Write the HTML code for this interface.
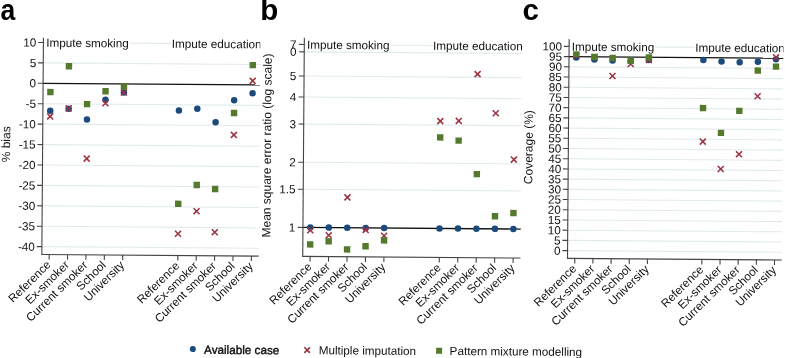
<!DOCTYPE html>
<html><head><meta charset="utf-8"><style>
html,body{margin:0;padding:0;background:#fff;}
svg{display:block;filter:blur(0.3px);}
.t{font-family:"Liberation Sans", Arial, Helvetica, sans-serif;font-size:11.7px;fill:#111;}
.pl{font-family:"Liberation Sans", Arial, Helvetica, sans-serif;font-size:29.5px;font-weight:bold;fill:#000;}
</style></head><body>
<svg width="785" height="358" viewBox="0 0 785 358">
<rect width="785" height="358" fill="#fff"/>
<g transform="rotate(0.4297 392.5 179.0)">
<line x1="42.40" y1="45.10" x2="259.30" y2="45.10" stroke="#e1ebee" stroke-width="1.1"/>
<line x1="42.40" y1="65.52" x2="259.30" y2="65.52" stroke="#e1ebee" stroke-width="1.1"/>
<line x1="42.40" y1="106.36" x2="259.30" y2="106.36" stroke="#e1ebee" stroke-width="1.1"/>
<line x1="42.40" y1="126.78" x2="259.30" y2="126.78" stroke="#e1ebee" stroke-width="1.1"/>
<line x1="42.40" y1="147.20" x2="259.30" y2="147.20" stroke="#e1ebee" stroke-width="1.1"/>
<line x1="42.40" y1="167.62" x2="259.30" y2="167.62" stroke="#e1ebee" stroke-width="1.1"/>
<line x1="42.40" y1="188.04" x2="259.30" y2="188.04" stroke="#e1ebee" stroke-width="1.1"/>
<line x1="42.40" y1="208.46" x2="259.30" y2="208.46" stroke="#e1ebee" stroke-width="1.1"/>
<line x1="42.40" y1="228.88" x2="259.30" y2="228.88" stroke="#e1ebee" stroke-width="1.1"/>
<line x1="42.40" y1="249.30" x2="259.30" y2="249.30" stroke="#e1ebee" stroke-width="1.1"/>
<line x1="42.40" y1="85.94" x2="259.30" y2="85.94" stroke="#111" stroke-width="1.3"/>
<circle cx="49.75" cy="113.37" r="3.25" fill="#1b4b7c"/>
<circle cx="68.13" cy="111.23" r="3.25" fill="#1b4b7c"/>
<circle cx="86.52" cy="121.89" r="3.25" fill="#1b4b7c"/>
<circle cx="104.90" cy="101.86" r="3.25" fill="#1b4b7c"/>
<circle cx="123.28" cy="94.52" r="3.25" fill="#1b4b7c"/>
<circle cx="178.42" cy="112.11" r="3.25" fill="#1b4b7c"/>
<circle cx="196.80" cy="110.26" r="3.25" fill="#1b4b7c"/>
<circle cx="215.18" cy="123.63" r="3.25" fill="#1b4b7c"/>
<circle cx="233.57" cy="101.39" r="3.25" fill="#1b4b7c"/>
<circle cx="251.95" cy="94.25" r="3.25" fill="#1b4b7c"/>
<path d="M46.75 115.97L52.75 121.97M46.75 121.97L52.75 115.97" stroke="#9a3342" stroke-width="1.55" fill="none"/>
<path d="M65.13 107.83L71.13 113.83M65.13 113.83L71.13 107.83" stroke="#9a3342" stroke-width="1.55" fill="none"/>
<path d="M83.52 157.89L89.52 163.89M83.52 163.89L89.52 157.89" stroke="#9a3342" stroke-width="1.55" fill="none"/>
<path d="M101.90 102.36L107.90 108.36M101.90 108.36L107.90 102.36" stroke="#9a3342" stroke-width="1.55" fill="none"/>
<path d="M120.28 91.52L126.28 97.52M120.28 97.52L126.28 91.52" stroke="#9a3342" stroke-width="1.55" fill="none"/>
<path d="M175.42 232.41L181.42 238.41M175.42 238.41L181.42 232.41" stroke="#9a3342" stroke-width="1.55" fill="none"/>
<path d="M193.80 209.66L199.80 215.66M193.80 215.66L199.80 209.66" stroke="#9a3342" stroke-width="1.55" fill="none"/>
<path d="M212.18 230.53L218.18 236.53M212.18 236.53L218.18 230.53" stroke="#9a3342" stroke-width="1.55" fill="none"/>
<path d="M230.57 133.09L236.57 139.09M230.57 139.09L236.57 133.09" stroke="#9a3342" stroke-width="1.55" fill="none"/>
<path d="M248.95 78.95L254.95 84.95M248.95 84.95L254.95 78.95" stroke="#9a3342" stroke-width="1.55" fill="none"/>
<rect x="46.55" y="91.42" width="6.4" height="6.4" fill="#557a2e"/>
<rect x="64.93" y="65.53" width="6.4" height="6.4" fill="#557a2e"/>
<rect x="83.32" y="103.24" width="6.4" height="6.4" fill="#557a2e"/>
<rect x="101.70" y="90.16" width="6.4" height="6.4" fill="#557a2e"/>
<rect x="120.08" y="85.32" width="6.4" height="6.4" fill="#557a2e"/>
<rect x="175.22" y="202.21" width="6.4" height="6.4" fill="#557a2e"/>
<rect x="193.60" y="183.26" width="6.4" height="6.4" fill="#557a2e"/>
<rect x="211.98" y="187.13" width="6.4" height="6.4" fill="#557a2e"/>
<rect x="230.37" y="110.99" width="6.4" height="6.4" fill="#557a2e"/>
<rect x="248.75" y="62.95" width="6.4" height="6.4" fill="#557a2e"/>
<clipPath id="clipa"><rect x="42.4" y="0" width="216.90" height="400"/></clipPath>
<g clip-path="url(#clipa)">
<rect x="45.10" y="39.40" width="83" height="10.6" fill="#fff"/>
<rect x="170.80" y="39.40" width="91" height="10.6" fill="#fff"/>
<text x="45.20" y="49.4" class="t">Impute smoking</text>
<text x="170.90" y="49.4" class="t">Impute education</text>
</g>
<line x1="42.40" y1="40.4" x2="42.40" y2="257.1" stroke="#444" stroke-width="1.1"/>
<line x1="41.85" y1="257.1" x2="259.30" y2="257.1" stroke="#444" stroke-width="1.1"/>
<line x1="37.20" y1="45.10" x2="42.40" y2="45.10" stroke="#444" stroke-width="1.1"/>
<text x="35.40" y="49.25" class="t" text-anchor="end">10</text>
<line x1="37.20" y1="65.52" x2="42.40" y2="65.52" stroke="#444" stroke-width="1.1"/>
<text x="35.40" y="69.67" class="t" text-anchor="end">5</text>
<line x1="37.20" y1="85.94" x2="42.40" y2="85.94" stroke="#444" stroke-width="1.1"/>
<text x="35.40" y="90.09" class="t" text-anchor="end">0</text>
<line x1="37.20" y1="106.36" x2="42.40" y2="106.36" stroke="#444" stroke-width="1.1"/>
<text x="35.40" y="110.51" class="t" text-anchor="end">-5</text>
<line x1="37.20" y1="126.78" x2="42.40" y2="126.78" stroke="#444" stroke-width="1.1"/>
<text x="35.40" y="130.93" class="t" text-anchor="end">-10</text>
<line x1="37.20" y1="147.20" x2="42.40" y2="147.20" stroke="#444" stroke-width="1.1"/>
<text x="35.40" y="151.35" class="t" text-anchor="end">-15</text>
<line x1="37.20" y1="167.62" x2="42.40" y2="167.62" stroke="#444" stroke-width="1.1"/>
<text x="35.40" y="171.77" class="t" text-anchor="end">-20</text>
<line x1="37.20" y1="188.04" x2="42.40" y2="188.04" stroke="#444" stroke-width="1.1"/>
<text x="35.40" y="192.19" class="t" text-anchor="end">-25</text>
<line x1="37.20" y1="208.46" x2="42.40" y2="208.46" stroke="#444" stroke-width="1.1"/>
<text x="35.40" y="212.61" class="t" text-anchor="end">-30</text>
<line x1="37.20" y1="228.88" x2="42.40" y2="228.88" stroke="#444" stroke-width="1.1"/>
<text x="35.40" y="233.03" class="t" text-anchor="end">-35</text>
<line x1="37.20" y1="249.30" x2="42.40" y2="249.30" stroke="#444" stroke-width="1.1"/>
<text x="35.40" y="253.45" class="t" text-anchor="end">-40</text>
<line x1="49.75" y1="257.1" x2="49.75" y2="262.10" stroke="#444" stroke-width="1.1"/>
<text x="52.10" y="268.00" class="t" text-anchor="end" transform="rotate(-45 52.10 268.00)">Reference</text>
<line x1="68.13" y1="257.1" x2="68.13" y2="262.10" stroke="#444" stroke-width="1.1"/>
<text x="70.48" y="268.00" class="t" text-anchor="end" transform="rotate(-45 70.48 268.00)">Ex-smoker</text>
<line x1="86.52" y1="257.1" x2="86.52" y2="262.10" stroke="#444" stroke-width="1.1"/>
<text x="88.87" y="268.00" class="t" text-anchor="end" transform="rotate(-45 88.87 268.00)">Current smoker</text>
<line x1="104.90" y1="257.1" x2="104.90" y2="262.10" stroke="#444" stroke-width="1.1"/>
<text x="107.25" y="268.00" class="t" text-anchor="end" transform="rotate(-45 107.25 268.00)">School</text>
<line x1="123.28" y1="257.1" x2="123.28" y2="262.10" stroke="#444" stroke-width="1.1"/>
<text x="125.63" y="268.00" class="t" text-anchor="end" transform="rotate(-45 125.63 268.00)">University</text>
<line x1="178.42" y1="257.1" x2="178.42" y2="262.10" stroke="#444" stroke-width="1.1"/>
<text x="180.77" y="268.00" class="t" text-anchor="end" transform="rotate(-45 180.77 268.00)">Reference</text>
<line x1="196.80" y1="257.1" x2="196.80" y2="262.10" stroke="#444" stroke-width="1.1"/>
<text x="199.15" y="268.00" class="t" text-anchor="end" transform="rotate(-45 199.15 268.00)">Ex-smoker</text>
<line x1="215.18" y1="257.1" x2="215.18" y2="262.10" stroke="#444" stroke-width="1.1"/>
<text x="217.53" y="268.00" class="t" text-anchor="end" transform="rotate(-45 217.53 268.00)">Current smoker</text>
<line x1="233.57" y1="257.1" x2="233.57" y2="262.10" stroke="#444" stroke-width="1.1"/>
<text x="235.92" y="268.00" class="t" text-anchor="end" transform="rotate(-45 235.92 268.00)">School</text>
<line x1="251.95" y1="257.1" x2="251.95" y2="262.10" stroke="#444" stroke-width="1.1"/>
<text x="254.30" y="268.00" class="t" text-anchor="end" transform="rotate(-45 254.30 268.00)">University</text>
<text x="9.85" y="147.20" class="t" style="font-size:12px" text-anchor="middle" transform="rotate(-90 9.85 147.20)" dy="0">% bias</text>
<line x1="303.30" y1="45.10" x2="521.10" y2="45.10" stroke="#e1ebee" stroke-width="1.1"/>
<line x1="303.30" y1="52.50" x2="521.10" y2="52.50" stroke="#e1ebee" stroke-width="1.1"/>
<line x1="303.30" y1="76.74" x2="521.10" y2="76.74" stroke="#e1ebee" stroke-width="1.1"/>
<line x1="303.30" y1="97.73" x2="521.10" y2="97.73" stroke="#e1ebee" stroke-width="1.1"/>
<line x1="303.30" y1="124.78" x2="521.10" y2="124.78" stroke="#e1ebee" stroke-width="1.1"/>
<line x1="303.30" y1="162.91" x2="521.10" y2="162.91" stroke="#e1ebee" stroke-width="1.1"/>
<line x1="303.30" y1="189.97" x2="521.10" y2="189.97" stroke="#e1ebee" stroke-width="1.1"/>
<line x1="303.30" y1="228.10" x2="521.10" y2="228.10" stroke="#111" stroke-width="1.3"/>
<circle cx="310.68" cy="228.10" r="3.25" fill="#1b4b7c"/>
<circle cx="329.14" cy="228.10" r="3.25" fill="#1b4b7c"/>
<circle cx="347.60" cy="228.10" r="3.25" fill="#1b4b7c"/>
<circle cx="366.06" cy="228.10" r="3.25" fill="#1b4b7c"/>
<circle cx="384.51" cy="228.10" r="3.25" fill="#1b4b7c"/>
<circle cx="439.89" cy="228.10" r="3.25" fill="#1b4b7c"/>
<circle cx="458.34" cy="228.10" r="3.25" fill="#1b4b7c"/>
<circle cx="476.80" cy="228.10" r="3.25" fill="#1b4b7c"/>
<circle cx="495.26" cy="228.10" r="3.25" fill="#1b4b7c"/>
<circle cx="513.72" cy="228.10" r="3.25" fill="#1b4b7c"/>
<path d="M307.68 227.92L313.68 233.92M307.68 233.92L313.68 227.92" stroke="#9a3342" stroke-width="1.55" fill="none"/>
<path d="M326.14 232.78L332.14 238.78M326.14 238.78L332.14 232.78" stroke="#9a3342" stroke-width="1.55" fill="none"/>
<path d="M344.60 194.74L350.60 200.74M344.60 200.74L350.60 194.74" stroke="#9a3342" stroke-width="1.55" fill="none"/>
<path d="M363.06 227.10L369.06 233.10M363.06 233.10L369.06 227.10" stroke="#9a3342" stroke-width="1.55" fill="none"/>
<path d="M381.51 232.77L387.51 238.77M381.51 238.77L387.51 232.77" stroke="#9a3342" stroke-width="1.55" fill="none"/>
<path d="M436.89 117.75L442.89 123.75M436.89 123.75L442.89 117.75" stroke="#9a3342" stroke-width="1.55" fill="none"/>
<path d="M455.34 117.41L461.34 123.41M455.34 123.41L461.34 117.41" stroke="#9a3342" stroke-width="1.55" fill="none"/>
<path d="M473.80 70.47L479.80 76.47M473.80 76.47L479.80 70.47" stroke="#9a3342" stroke-width="1.55" fill="none"/>
<path d="M492.26 109.43L498.26 115.43M492.26 115.43L498.26 109.43" stroke="#9a3342" stroke-width="1.55" fill="none"/>
<path d="M510.72 155.69L516.72 161.69M510.72 161.69L516.72 155.69" stroke="#9a3342" stroke-width="1.55" fill="none"/>
<rect x="307.48" y="241.82" width="6.4" height="6.4" fill="#557a2e"/>
<rect x="325.94" y="238.58" width="6.4" height="6.4" fill="#557a2e"/>
<rect x="344.40" y="246.54" width="6.4" height="6.4" fill="#557a2e"/>
<rect x="362.86" y="243.20" width="6.4" height="6.4" fill="#557a2e"/>
<rect x="381.31" y="237.27" width="6.4" height="6.4" fill="#557a2e"/>
<rect x="436.69" y="133.85" width="6.4" height="6.4" fill="#557a2e"/>
<rect x="455.14" y="136.91" width="6.4" height="6.4" fill="#557a2e"/>
<rect x="473.60" y="170.27" width="6.4" height="6.4" fill="#557a2e"/>
<rect x="492.06" y="212.23" width="6.4" height="6.4" fill="#557a2e"/>
<rect x="510.52" y="208.99" width="6.4" height="6.4" fill="#557a2e"/>
<clipPath id="clipb"><rect x="303.3" y="0" width="217.80" height="400"/></clipPath>
<g clip-path="url(#clipb)">
<rect x="305.90" y="39.40" width="83" height="10.6" fill="#fff"/>
<rect x="431.90" y="39.40" width="91" height="10.6" fill="#fff"/>
<text x="306.00" y="49.4" class="t">Impute smoking</text>
<text x="432.00" y="49.4" class="t">Impute education</text>
</g>
<line x1="303.30" y1="38.5" x2="303.30" y2="257.1" stroke="#444" stroke-width="1.1"/>
<line x1="302.75" y1="257.1" x2="521.10" y2="257.1" stroke="#444" stroke-width="1.1"/>
<line x1="298.10" y1="45.10" x2="303.30" y2="45.10" stroke="#444" stroke-width="1.1"/>
<text x="295.60" y="49.25" class="t" text-anchor="end">7</text>
<line x1="298.10" y1="52.50" x2="303.30" y2="52.50" stroke="#444" stroke-width="1.1"/>
<text x="295.60" y="56.65" class="t" text-anchor="end">0</text>
<line x1="298.10" y1="76.74" x2="303.30" y2="76.74" stroke="#444" stroke-width="1.1"/>
<text x="295.60" y="80.89" class="t" text-anchor="end">5</text>
<line x1="298.10" y1="97.73" x2="303.30" y2="97.73" stroke="#444" stroke-width="1.1"/>
<text x="295.60" y="101.88" class="t" text-anchor="end">4</text>
<line x1="298.10" y1="124.78" x2="303.30" y2="124.78" stroke="#444" stroke-width="1.1"/>
<text x="295.60" y="128.93" class="t" text-anchor="end">3</text>
<line x1="298.10" y1="162.91" x2="303.30" y2="162.91" stroke="#444" stroke-width="1.1"/>
<text x="295.60" y="167.06" class="t" text-anchor="end">2</text>
<line x1="298.10" y1="189.97" x2="303.30" y2="189.97" stroke="#444" stroke-width="1.1"/>
<text x="295.60" y="194.12" class="t" text-anchor="end">1.5</text>
<line x1="298.10" y1="228.10" x2="303.30" y2="228.10" stroke="#444" stroke-width="1.1"/>
<text x="295.60" y="232.25" class="t" text-anchor="end">1</text>
<line x1="310.68" y1="257.1" x2="310.68" y2="262.10" stroke="#444" stroke-width="1.1"/>
<text x="313.03" y="268.00" class="t" text-anchor="end" transform="rotate(-45 313.03 268.00)">Reference</text>
<line x1="329.14" y1="257.1" x2="329.14" y2="262.10" stroke="#444" stroke-width="1.1"/>
<text x="331.49" y="268.00" class="t" text-anchor="end" transform="rotate(-45 331.49 268.00)">Ex-smoker</text>
<line x1="347.60" y1="257.1" x2="347.60" y2="262.10" stroke="#444" stroke-width="1.1"/>
<text x="349.95" y="268.00" class="t" text-anchor="end" transform="rotate(-45 349.95 268.00)">Current smoker</text>
<line x1="366.06" y1="257.1" x2="366.06" y2="262.10" stroke="#444" stroke-width="1.1"/>
<text x="368.41" y="268.00" class="t" text-anchor="end" transform="rotate(-45 368.41 268.00)">School</text>
<line x1="384.51" y1="257.1" x2="384.51" y2="262.10" stroke="#444" stroke-width="1.1"/>
<text x="386.86" y="268.00" class="t" text-anchor="end" transform="rotate(-45 386.86 268.00)">University</text>
<line x1="439.89" y1="257.1" x2="439.89" y2="262.10" stroke="#444" stroke-width="1.1"/>
<text x="442.24" y="268.00" class="t" text-anchor="end" transform="rotate(-45 442.24 268.00)">Reference</text>
<line x1="458.34" y1="257.1" x2="458.34" y2="262.10" stroke="#444" stroke-width="1.1"/>
<text x="460.69" y="268.00" class="t" text-anchor="end" transform="rotate(-45 460.69 268.00)">Ex-smoker</text>
<line x1="476.80" y1="257.1" x2="476.80" y2="262.10" stroke="#444" stroke-width="1.1"/>
<text x="479.15" y="268.00" class="t" text-anchor="end" transform="rotate(-45 479.15 268.00)">Current smoker</text>
<line x1="495.26" y1="257.1" x2="495.26" y2="262.10" stroke="#444" stroke-width="1.1"/>
<text x="497.61" y="268.00" class="t" text-anchor="end" transform="rotate(-45 497.61 268.00)">School</text>
<line x1="513.72" y1="257.1" x2="513.72" y2="262.10" stroke="#444" stroke-width="1.1"/>
<text x="516.07" y="268.00" class="t" text-anchor="end" transform="rotate(-45 516.07 268.00)">University</text>
<text x="270.80" y="146.40" class="t" style="font-size:12px" text-anchor="middle" transform="rotate(-90 270.80 146.40)" dy="0">Mean square error ratio (log scale)</text>
<line x1="568.10" y1="45.10" x2="782.40" y2="45.10" stroke="#e1ebee" stroke-width="1.1"/>
<line x1="568.10" y1="65.52" x2="782.40" y2="65.52" stroke="#e1ebee" stroke-width="1.1"/>
<line x1="568.10" y1="75.73" x2="782.40" y2="75.73" stroke="#e1ebee" stroke-width="1.1"/>
<line x1="568.10" y1="85.94" x2="782.40" y2="85.94" stroke="#e1ebee" stroke-width="1.1"/>
<line x1="568.10" y1="96.15" x2="782.40" y2="96.15" stroke="#e1ebee" stroke-width="1.1"/>
<line x1="568.10" y1="106.36" x2="782.40" y2="106.36" stroke="#e1ebee" stroke-width="1.1"/>
<line x1="568.10" y1="116.57" x2="782.40" y2="116.57" stroke="#e1ebee" stroke-width="1.1"/>
<line x1="568.10" y1="126.78" x2="782.40" y2="126.78" stroke="#e1ebee" stroke-width="1.1"/>
<line x1="568.10" y1="136.99" x2="782.40" y2="136.99" stroke="#e1ebee" stroke-width="1.1"/>
<line x1="568.10" y1="147.20" x2="782.40" y2="147.20" stroke="#e1ebee" stroke-width="1.1"/>
<line x1="568.10" y1="157.41" x2="782.40" y2="157.41" stroke="#e1ebee" stroke-width="1.1"/>
<line x1="568.10" y1="167.62" x2="782.40" y2="167.62" stroke="#e1ebee" stroke-width="1.1"/>
<line x1="568.10" y1="177.83" x2="782.40" y2="177.83" stroke="#e1ebee" stroke-width="1.1"/>
<line x1="568.10" y1="188.04" x2="782.40" y2="188.04" stroke="#e1ebee" stroke-width="1.1"/>
<line x1="568.10" y1="198.25" x2="782.40" y2="198.25" stroke="#e1ebee" stroke-width="1.1"/>
<line x1="568.10" y1="208.46" x2="782.40" y2="208.46" stroke="#e1ebee" stroke-width="1.1"/>
<line x1="568.10" y1="218.67" x2="782.40" y2="218.67" stroke="#e1ebee" stroke-width="1.1"/>
<line x1="568.10" y1="228.88" x2="782.40" y2="228.88" stroke="#e1ebee" stroke-width="1.1"/>
<line x1="568.10" y1="239.09" x2="782.40" y2="239.09" stroke="#e1ebee" stroke-width="1.1"/>
<line x1="568.10" y1="249.30" x2="782.40" y2="249.30" stroke="#e1ebee" stroke-width="1.1"/>
<line x1="568.10" y1="55.31" x2="782.40" y2="55.31" stroke="#111" stroke-width="1.3"/>
<circle cx="575.36" cy="56.22" r="3.25" fill="#1b4b7c"/>
<circle cx="593.53" cy="58.08" r="3.25" fill="#1b4b7c"/>
<circle cx="611.69" cy="58.85" r="3.25" fill="#1b4b7c"/>
<circle cx="629.85" cy="59.21" r="3.25" fill="#1b4b7c"/>
<circle cx="648.01" cy="58.08" r="3.25" fill="#1b4b7c"/>
<circle cx="702.49" cy="57.77" r="3.25" fill="#1b4b7c"/>
<circle cx="720.65" cy="59.03" r="3.25" fill="#1b4b7c"/>
<circle cx="738.81" cy="59.70" r="3.25" fill="#1b4b7c"/>
<circle cx="756.97" cy="59.06" r="3.25" fill="#1b4b7c"/>
<circle cx="775.14" cy="56.43" r="3.25" fill="#1b4b7c"/>
<path d="M572.36 51.42L578.36 57.42M572.36 57.42L578.36 51.42" stroke="#9a3342" stroke-width="1.55" fill="none"/>
<path d="M590.53 52.78L596.53 58.78M590.53 58.78L596.53 52.78" stroke="#9a3342" stroke-width="1.55" fill="none"/>
<path d="M608.69 71.35L614.69 77.35M608.69 77.35L614.69 71.35" stroke="#9a3342" stroke-width="1.55" fill="none"/>
<path d="M626.85 59.21L632.85 65.21M626.85 65.21L632.85 59.21" stroke="#9a3342" stroke-width="1.55" fill="none"/>
<path d="M645.01 55.08L651.01 61.08M645.01 61.08L651.01 55.08" stroke="#9a3342" stroke-width="1.55" fill="none"/>
<path d="M699.49 136.27L705.49 142.27M699.49 142.27L705.49 136.27" stroke="#9a3342" stroke-width="1.55" fill="none"/>
<path d="M717.65 163.53L723.65 169.53M717.65 169.53L723.65 163.53" stroke="#9a3342" stroke-width="1.55" fill="none"/>
<path d="M735.81 148.60L741.81 154.60M735.81 154.60L741.81 148.60" stroke="#9a3342" stroke-width="1.55" fill="none"/>
<path d="M753.97 90.56L759.97 96.56M753.97 96.56L759.97 90.56" stroke="#9a3342" stroke-width="1.55" fill="none"/>
<path d="M772.14 51.43L778.14 57.43M772.14 57.43L778.14 51.43" stroke="#9a3342" stroke-width="1.55" fill="none"/>
<rect x="572.16" y="49.22" width="6.4" height="6.4" fill="#557a2e"/>
<rect x="590.33" y="52.33" width="6.4" height="6.4" fill="#557a2e"/>
<rect x="608.49" y="53.15" width="6.4" height="6.4" fill="#557a2e"/>
<rect x="626.65" y="55.81" width="6.4" height="6.4" fill="#557a2e"/>
<rect x="644.81" y="52.38" width="6.4" height="6.4" fill="#557a2e"/>
<rect x="699.29" y="102.57" width="6.4" height="6.4" fill="#557a2e"/>
<rect x="717.45" y="127.23" width="6.4" height="6.4" fill="#557a2e"/>
<rect x="735.61" y="105.10" width="6.4" height="6.4" fill="#557a2e"/>
<rect x="753.77" y="64.66" width="6.4" height="6.4" fill="#557a2e"/>
<rect x="771.94" y="60.53" width="6.4" height="6.4" fill="#557a2e"/>
<clipPath id="clipc"><rect x="568.1" y="0" width="214.30" height="400"/></clipPath>
<g clip-path="url(#clipc)">
<rect x="570.60" y="39.40" width="83" height="10.6" fill="#fff"/>
<rect x="694.10" y="39.40" width="91" height="10.6" fill="#fff"/>
<text x="570.70" y="49.4" class="t">Impute smoking</text>
<text x="694.20" y="49.4" class="t">Impute education</text>
</g>
<line x1="568.10" y1="37.8" x2="568.10" y2="257.1" stroke="#444" stroke-width="1.1"/>
<line x1="567.55" y1="257.1" x2="782.40" y2="257.1" stroke="#444" stroke-width="1.1"/>
<line x1="562.90" y1="45.10" x2="568.10" y2="45.10" stroke="#444" stroke-width="1.1"/>
<text x="561.10" y="49.25" class="t" text-anchor="end">100</text>
<line x1="562.90" y1="55.31" x2="568.10" y2="55.31" stroke="#444" stroke-width="1.1"/>
<text x="561.10" y="59.46" class="t" text-anchor="end">95</text>
<line x1="562.90" y1="65.52" x2="568.10" y2="65.52" stroke="#444" stroke-width="1.1"/>
<text x="561.10" y="69.67" class="t" text-anchor="end">90</text>
<line x1="562.90" y1="75.73" x2="568.10" y2="75.73" stroke="#444" stroke-width="1.1"/>
<text x="561.10" y="79.88" class="t" text-anchor="end">85</text>
<line x1="562.90" y1="85.94" x2="568.10" y2="85.94" stroke="#444" stroke-width="1.1"/>
<text x="561.10" y="90.09" class="t" text-anchor="end">80</text>
<line x1="562.90" y1="96.15" x2="568.10" y2="96.15" stroke="#444" stroke-width="1.1"/>
<text x="561.10" y="100.30" class="t" text-anchor="end">75</text>
<line x1="562.90" y1="106.36" x2="568.10" y2="106.36" stroke="#444" stroke-width="1.1"/>
<text x="561.10" y="110.51" class="t" text-anchor="end">70</text>
<line x1="562.90" y1="116.57" x2="568.10" y2="116.57" stroke="#444" stroke-width="1.1"/>
<text x="561.10" y="120.72" class="t" text-anchor="end">65</text>
<line x1="562.90" y1="126.78" x2="568.10" y2="126.78" stroke="#444" stroke-width="1.1"/>
<text x="561.10" y="130.93" class="t" text-anchor="end">60</text>
<line x1="562.90" y1="136.99" x2="568.10" y2="136.99" stroke="#444" stroke-width="1.1"/>
<text x="561.10" y="141.14" class="t" text-anchor="end">55</text>
<line x1="562.90" y1="147.20" x2="568.10" y2="147.20" stroke="#444" stroke-width="1.1"/>
<text x="561.10" y="151.35" class="t" text-anchor="end">50</text>
<line x1="562.90" y1="157.41" x2="568.10" y2="157.41" stroke="#444" stroke-width="1.1"/>
<text x="561.10" y="161.56" class="t" text-anchor="end">45</text>
<line x1="562.90" y1="167.62" x2="568.10" y2="167.62" stroke="#444" stroke-width="1.1"/>
<text x="561.10" y="171.77" class="t" text-anchor="end">40</text>
<line x1="562.90" y1="177.83" x2="568.10" y2="177.83" stroke="#444" stroke-width="1.1"/>
<text x="561.10" y="181.98" class="t" text-anchor="end">35</text>
<line x1="562.90" y1="188.04" x2="568.10" y2="188.04" stroke="#444" stroke-width="1.1"/>
<text x="561.10" y="192.19" class="t" text-anchor="end">30</text>
<line x1="562.90" y1="198.25" x2="568.10" y2="198.25" stroke="#444" stroke-width="1.1"/>
<text x="561.10" y="202.40" class="t" text-anchor="end">25</text>
<line x1="562.90" y1="208.46" x2="568.10" y2="208.46" stroke="#444" stroke-width="1.1"/>
<text x="561.10" y="212.61" class="t" text-anchor="end">20</text>
<line x1="562.90" y1="218.67" x2="568.10" y2="218.67" stroke="#444" stroke-width="1.1"/>
<text x="561.10" y="222.82" class="t" text-anchor="end">15</text>
<line x1="562.90" y1="228.88" x2="568.10" y2="228.88" stroke="#444" stroke-width="1.1"/>
<text x="561.10" y="233.03" class="t" text-anchor="end">10</text>
<line x1="562.90" y1="239.09" x2="568.10" y2="239.09" stroke="#444" stroke-width="1.1"/>
<text x="561.10" y="243.24" class="t" text-anchor="end">5</text>
<line x1="562.90" y1="249.30" x2="568.10" y2="249.30" stroke="#444" stroke-width="1.1"/>
<text x="561.10" y="253.45" class="t" text-anchor="end">0</text>
<line x1="575.36" y1="257.1" x2="575.36" y2="262.10" stroke="#444" stroke-width="1.1"/>
<text x="577.71" y="268.00" class="t" text-anchor="end" transform="rotate(-45 577.71 268.00)">Reference</text>
<line x1="593.53" y1="257.1" x2="593.53" y2="262.10" stroke="#444" stroke-width="1.1"/>
<text x="595.88" y="268.00" class="t" text-anchor="end" transform="rotate(-45 595.88 268.00)">Ex-smoker</text>
<line x1="611.69" y1="257.1" x2="611.69" y2="262.10" stroke="#444" stroke-width="1.1"/>
<text x="614.04" y="268.00" class="t" text-anchor="end" transform="rotate(-45 614.04 268.00)">Current smoker</text>
<line x1="629.85" y1="257.1" x2="629.85" y2="262.10" stroke="#444" stroke-width="1.1"/>
<text x="632.20" y="268.00" class="t" text-anchor="end" transform="rotate(-45 632.20 268.00)">School</text>
<line x1="648.01" y1="257.1" x2="648.01" y2="262.10" stroke="#444" stroke-width="1.1"/>
<text x="650.36" y="268.00" class="t" text-anchor="end" transform="rotate(-45 650.36 268.00)">University</text>
<line x1="702.49" y1="257.1" x2="702.49" y2="262.10" stroke="#444" stroke-width="1.1"/>
<text x="704.84" y="268.00" class="t" text-anchor="end" transform="rotate(-45 704.84 268.00)">Reference</text>
<line x1="720.65" y1="257.1" x2="720.65" y2="262.10" stroke="#444" stroke-width="1.1"/>
<text x="723.00" y="268.00" class="t" text-anchor="end" transform="rotate(-45 723.00 268.00)">Ex-smoker</text>
<line x1="738.81" y1="257.1" x2="738.81" y2="262.10" stroke="#444" stroke-width="1.1"/>
<text x="741.16" y="268.00" class="t" text-anchor="end" transform="rotate(-45 741.16 268.00)">Current smoker</text>
<line x1="756.97" y1="257.1" x2="756.97" y2="262.10" stroke="#444" stroke-width="1.1"/>
<text x="759.32" y="268.00" class="t" text-anchor="end" transform="rotate(-45 759.32 268.00)">School</text>
<line x1="775.14" y1="257.1" x2="775.14" y2="262.10" stroke="#444" stroke-width="1.1"/>
<text x="777.49" y="268.00" class="t" text-anchor="end" transform="rotate(-45 777.49 268.00)">University</text>
<text x="532.40" y="146.10" class="t" style="font-size:12px" text-anchor="middle" transform="rotate(-90 532.40 146.10)" dy="0">Coverage (%)</text>
<circle cx="194.08" cy="350.60" r="3.0" fill="#1b4b7c"/>
<path d="M305.58 347.94L311.18 353.54M305.58 353.54L311.18 347.94" stroke="#9a3342" stroke-width="1.6" fill="none"/>
<rect x="437.39" y="347.45" width="6.0" height="6.0" fill="#557a2e"/>
<text x="205.41" y="355.11" class="t" style="stroke:#000;stroke-width:0.35px">Available case</text>
<text x="320.01" y="354.85" class="t">Multiple imputation</text>
<text x="450.92" y="354.57" class="t">Pattern mixture modelling</text>
</g>
<text x="0" y="0" class="pl" transform="translate(0.6 20.3) scale(0.9 1)">a</text>
<text x="260.3" y="20.3" class="pl">b</text>
<text x="522.6" y="20.3" class="pl">c</text>
</svg>
</body></html>
